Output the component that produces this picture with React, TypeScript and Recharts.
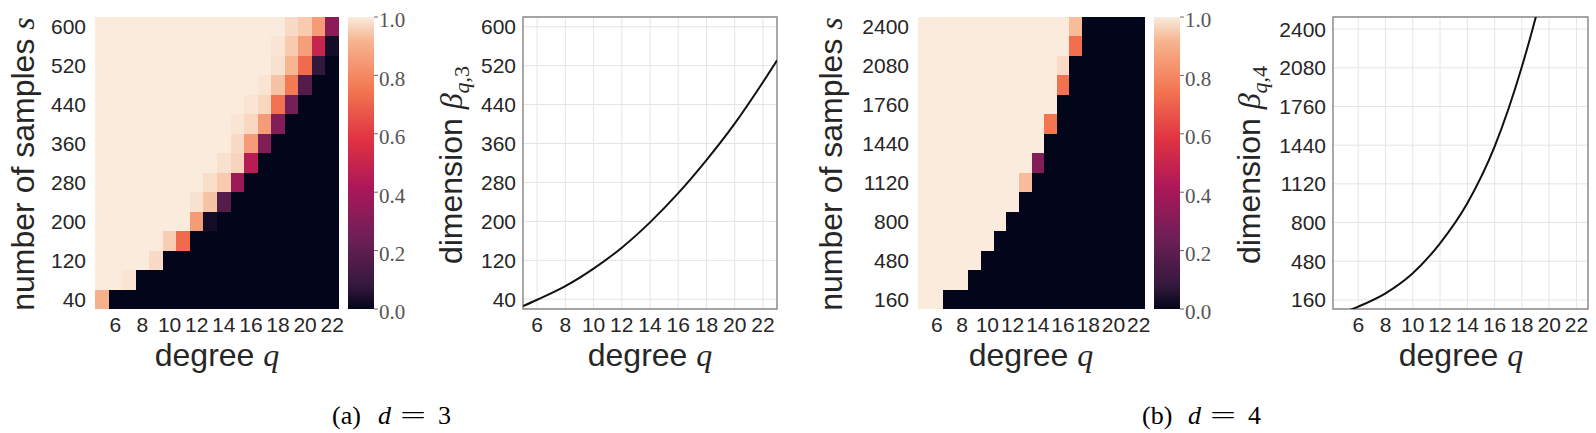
import React from "react";
import {
	ScatterChart,
	Scatter,
	LineChart,
	Line,
	XAxis,
	YAxis,
	CartesianGrid,
	ReferenceArea,
} from "recharts";

// degree q, one heatmap column per degree
const degrees = [5, 6, 7, 8, 9, 10, 11, 12, 13, 14, 15, 16, 17, 18, 19, 20, 21, 22];
const degreeTicks = [6, 8, 10, 12, 14, 16, 18, 20, 22];

// number of samples s, one heatmap row per value (ascending)
const samplesD3 = [40, 80, 120, 160, 200, 240, 280, 320, 360, 400, 440, 480, 520, 560, 600];
const samplesD4 = [160, 320, 480, 640, 800, 960, 1120, 1280, 1440, 1600, 1760, 1920, 2080, 2240, 2400];
const sTicksD3 = [40, 120, 200, 280, 360, 440, 520, 600];
const sTicksD4 = [160, 480, 800, 1120, 1440, 1760, 2080, 2400];
const colorbarTicks = [0, 0.2, 0.4, 0.6, 0.8, 1.0];

// recovery rate, rows follow samplesD3, columns follow degrees
const successD3: number[][] = [
	[0.91, 0, 0, 0, 0, 0, 0, 0, 0, 0, 0, 0, 0, 0, 0, 0, 0, 0],
	[1, 1, 0.99, 0, 0, 0, 0, 0, 0, 0, 0, 0, 0, 0, 0, 0, 0, 0],
	[1, 1, 1, 1, 0.975, 0, 0, 0, 0, 0, 0, 0, 0, 0, 0, 0, 0, 0],
	[1, 1, 1, 1, 1, 0.955, 0.72, 0, 0, 0, 0, 0, 0, 0, 0, 0, 0, 0],
	[1, 1, 1, 1, 1, 1, 1, 0.85, 0.03, 0, 0, 0, 0, 0, 0, 0, 0, 0],
	[1, 1, 1, 1, 1, 1, 1, 0.985, 0.94, 0.17, 0, 0, 0, 0, 0, 0, 0, 0],
	[1, 1, 1, 1, 1, 1, 1, 1, 0.98, 0.95, 0.37, 0, 0, 0, 0, 0, 0, 0],
	[1, 1, 1, 1, 1, 1, 1, 1, 1, 0.985, 0.965, 0.45, 0, 0, 0, 0, 0, 0],
	[1, 1, 1, 1, 1, 1, 1, 1, 1, 1, 0.975, 0.85, 0.29, 0, 0, 0, 0, 0],
	[1, 1, 1, 1, 1, 1, 1, 1, 1, 1, 0.99, 0.97, 0.85, 0.3, 0, 0, 0, 0],
	[1, 1, 1, 1, 1, 1, 1, 1, 1, 1, 1, 0.99, 0.97, 0.74, 0.26, 0, 0, 0],
	[1, 1, 1, 1, 1, 1, 1, 1, 1, 1, 1, 1, 0.99, 0.94, 0.76, 0.17, 0, 0],
	[1, 1, 1, 1, 1, 1, 1, 1, 1, 1, 1, 1, 1, 0.985, 0.92, 0.72, 0.08, 0],
	[1, 1, 1, 1, 1, 1, 1, 1, 1, 1, 1, 1, 1, 0.99, 0.95, 0.86, 0.5, 0.03],
	[1, 1, 1, 1, 1, 1, 1, 1, 1, 1, 1, 1, 1, 1, 0.975, 0.95, 0.85, 0.33],
];

// recovery rate, rows follow samplesD4, columns follow degrees
const successD4: number[][] = [
	[1, 1, 0, 0, 0, 0, 0, 0, 0, 0, 0, 0, 0, 0, 0, 0, 0, 0],
	[1, 1, 1, 1, 0, 0, 0, 0, 0, 0, 0, 0, 0, 0, 0, 0, 0, 0],
	[1, 1, 1, 1, 1, 0, 0, 0, 0, 0, 0, 0, 0, 0, 0, 0, 0, 0],
	[1, 1, 1, 1, 1, 1, 0, 0, 0, 0, 0, 0, 0, 0, 0, 0, 0, 0],
	[1, 1, 1, 1, 1, 1, 1, 0, 0, 0, 0, 0, 0, 0, 0, 0, 0, 0],
	[1, 1, 1, 1, 1, 1, 1, 1, 0, 0, 0, 0, 0, 0, 0, 0, 0, 0],
	[1, 1, 1, 1, 1, 1, 1, 1, 0.93, 0, 0, 0, 0, 0, 0, 0, 0, 0],
	[1, 1, 1, 1, 1, 1, 1, 1, 1, 0.3, 0, 0, 0, 0, 0, 0, 0, 0],
	[1, 1, 1, 1, 1, 1, 1, 1, 1, 1, 0, 0, 0, 0, 0, 0, 0, 0],
	[1, 1, 1, 1, 1, 1, 1, 1, 1, 1, 0.75, 0, 0, 0, 0, 0, 0, 0],
	[1, 1, 1, 1, 1, 1, 1, 1, 1, 1, 1, 0, 0, 0, 0, 0, 0, 0],
	[1, 1, 1, 1, 1, 1, 1, 1, 1, 1, 1, 0.74, 0, 0, 0, 0, 0, 0],
	[1, 1, 1, 1, 1, 1, 1, 1, 1, 1, 1, 0.975, 0, 0, 0, 0, 0, 0],
	[1, 1, 1, 1, 1, 1, 1, 1, 1, 1, 1, 1, 0.73, 0, 0, 0, 0, 0],
	[1, 1, 1, 1, 1, 1, 1, 1, 1, 1, 1, 1, 0.93, 0, 0, 0, 0, 0],
];

const betaD3Degrees = [5, 6, 8, 10, 12, 14, 16, 18, 20, 22, 23];
const betaD3 = [26, 39, 67, 103, 146, 198, 258, 326, 401, 486, 531];
const betaD4Degrees = [5, 6, 8, 10, 12, 14, 16, 18, 19, 20];
const betaD4 = [60, 105, 215, 381, 628, 959, 1427, 2088, 2490, 2950];

// seaborn "rocket"
const rocketStops: [number, string][] = [
	[0, "#03051a"],
	[0.083, "#35193e"],
	[0.25, "#701f57"],
	[0.417, "#ad1759"],
	[0.583, "#e13342"],
	[0.75, "#f37651"],
	[0.917, "#f6b48f"],
	[1, "#faebdd"],
];

const SANS = "'Liberation Sans', Arial, Helvetica, sans-serif";
const SERIF = "'Liberation Serif', 'Times New Roman', serif";
const INK = "#262626";
const tickStyle = { fontFamily: SANS, fontSize: 21, fill: INK };

function hexToRgb(h: string) {
	return [1, 3, 5].map((i) => parseInt(h.slice(i, i + 2), 16));
}

function rocket(v: number) {
	for (let i = 1; i < rocketStops.length; i++) {
		const [p1, c1] = rocketStops[i];
		const [p0, c0] = rocketStops[i - 1];
		if (v <= p1) {
			const t = (v - p0) / (p1 - p0);
			const a = hexToRgb(c0);
			const b = hexToRgb(c1);
			const rgb = a.map((x, k) => Math.round(x + (b[k] - x) * t));
			return `rgb(${rgb[0]},${rgb[1]},${rgb[2]})`;
		}
	}
	return rocketStops[rocketStops.length - 1][1];
}

function Heatmap({ left, width, yAxisWidth, plotWidth, samples, grid, sTicks, step }) {
	const cells = [];
	samples.forEach((s, r) => {
		degrees.forEach((q, c) => {
			cells.push({ q, s, color: rocket(grid[r][c]) });
		});
	});
	return (
		<div style={{ position: "absolute", left, top: 0, shapeRendering: "crispEdges" }}>
			<ScatterChart
				width={width}
				height={380}
				margin={{ top: 17, right: width - yAxisWidth - plotWidth, left: 0, bottom: 0 }}
			>
				<XAxis
					type="number"
					dataKey="q"
					domain={[4.5, 22.5]}
					ticks={degreeTicks}
					interval={0}
					allowDataOverflow
					axisLine={false}
					tickLine={false}
					tickSize={6}
					tickMargin={2}
					height={71}
					tick={tickStyle}
				/>
				<YAxis
					type="number"
					dataKey="s"
					domain={[samples[0] - step / 2, samples[samples.length - 1] + step / 2]}
					ticks={sTicks}
					interval={0}
					allowDataOverflow
					axisLine={false}
					tickLine={false}
					tickSize={6}
					tickMargin={3}
					width={yAxisWidth}
					tick={tickStyle}
				/>
				{cells.map((c) => (
					<ReferenceArea
						key={`${c.q}-${c.s}`}
						x1={c.q - 0.5}
						x2={c.q + 0.5}
						y1={c.s - step / 2}
						y2={c.s + step / 2}
						fill={c.color}
						fillOpacity={1}
						stroke="none"
						ifOverflow="visible"
					/>
				))}
				<Scatter data={cells} isAnimationActive={false} shape={() => <g />} />
			</ScatterChart>
		</div>
	);
}

function ColorbarTick(props) {
	const { x, y, payload } = props;
	return (
		<g>
			<line x1={x - 5} x2={x - 1} y1={y} y2={y} stroke="#666" strokeWidth={1} />
			<text x={x} y={y + 3} dy="0.35em" fontFamily={SERIF} fontSize={21} fill="#555">
				{payload.value.toFixed(1)}
			</text>
		</g>
	);
}

function Colorbar({ left, id }) {
	return (
		<div style={{ position: "absolute", left, top: 0 }}>
			<ScatterChart width={74} height={380} margin={{ top: 17, right: 0, left: 8, bottom: 71 }}>
				<defs>
					<linearGradient id={id} x1="0" y1="1" x2="0" y2="0">
						{rocketStops.map(([p, c]) => (
							<stop key={p} offset={p} stopColor={c} />
						))}
					</linearGradient>
				</defs>
				<XAxis type="number" dataKey="x" domain={[0, 1]} hide />
				<YAxis
					orientation="right"
					type="number"
					dataKey="v"
					domain={[0, 1]}
					ticks={colorbarTicks}
					interval={0}
					axisLine={false}
					tickLine={false}
					tickSize={4}
					tickMargin={1}
					width={40}
					tick={<ColorbarTick />}
				/>
				<ReferenceArea x1={0} x2={1} y1={0} y2={1} fill={`url(#${id})`} fillOpacity={1} />
				<Scatter data={[{ x: 0, v: 0 }, { x: 1, v: 1 }]} isAnimationActive={false} shape={() => <g />} />
			</ScatterChart>
		</div>
	);
}

function DimensionChart({ left, width, yAxisWidth, marginRight, xs, ys, xDomain, yDomain, yTicks }) {
	const data = xs.map((q, i) => ({ q, beta: ys[i] }));
	return (
		<div style={{ position: "absolute", left, top: 0 }}>
			<LineChart width={width} height={380} data={data} margin={{ top: 17, right: marginRight, left: 0, bottom: 0 }}>
				<CartesianGrid stroke="#e4e4e4" strokeWidth={1} />
				<XAxis
					type="number"
					dataKey="q"
					domain={xDomain}
					ticks={degreeTicks}
					interval={0}
					allowDataOverflow
					axisLine={false}
					tickLine={false}
					tickSize={6}
					tickMargin={2}
					height={71}
					tick={tickStyle}
				/>
				<YAxis
					type="number"
					domain={yDomain}
					ticks={yTicks}
					interval={0}
					allowDataOverflow
					axisLine={false}
					tickLine={false}
					tickSize={3}
					tickMargin={4}
					width={yAxisWidth}
					tick={tickStyle}
				/>
				<Line
					type="monotone"
					dataKey="beta"
					stroke="#111111"
					strokeWidth={2}
					dot={false}
					isAnimationActive={false}
				/>
				<ReferenceArea
					x1={xDomain[0]}
					x2={xDomain[1]}
					y1={yDomain[0]}
					y2={yDomain[1]}
					fill="none"
					stroke="#8a8a8a"
					strokeWidth={1.4}
					ifOverflow="visible"
				/>
			</LineChart>
		</div>
	);
}

function YTitle({ x, y, children }) {
	return (
		<text
			transform={`translate(${x},${y}) rotate(-90)`}
			textAnchor="middle"
			fontFamily={SANS}
			fontSize={32}
			fill={INK}
		>
			{children}
		</text>
	);
}

function XTitle({ x }) {
	return (
		<text x={x} y={366} textAnchor="middle" fontFamily={SANS} fontSize={32} fill={INK}>
			degree{" "}
			<tspan fontFamily={SERIF} fontStyle="italic">
				q
			</tspan>
		</text>
	);
}

function Caption({ x, tag, d }) {
	return (
		<g fontFamily={SERIF} fontSize={26} fill="#000">
			<text x={x} y={424}>({tag})</text>
			<text x={x + 46} y={424} fontStyle="italic">d</text>
			<text x={x + 68} y={424} textLength={26} lengthAdjust="spacingAndGlyphs">=</text>
			<text x={x + 106} y={424}>{d}</text>
		</g>
	);
}

export default function App() {
	return (
		<div style={{ position: "fixed", left: 0, top: 0, width: 1596, height: 433, background: "#fff" }}>
			<Heatmap left={0} width={362} yAxisWidth={95} plotWidth={244} samples={samplesD3} grid={successD3} sTicks={sTicksD3} step={40} />
			<Colorbar left={340} id="rocket-a" />
			<DimensionChart
				left={420}
				width={370}
				yAxisWidth={103}
				marginRight={13}
				xs={betaD3Degrees}
				ys={betaD3}
				xDomain={[5, 23]}
				yDomain={[20, 620]}
				yTicks={sTicksD3}
			/>
			<Heatmap left={800} width={365} yAxisWidth={118} plotWidth={227} samples={samplesD4} grid={successD4} sTicks={sTicksD4} step={160} />
			<Colorbar left={1146} id="rocket-b" />
			<DimensionChart
				left={1220}
				width={376}
				yAxisWidth={113}
				marginRight={8}
				xs={betaD4Degrees}
				ys={betaD4}
				xDomain={[4.15, 22.85]}
				yDomain={[85, 2500]}
				yTicks={sTicksD4}
			/>
			<svg width={1596} height={433} style={{ position: "absolute", left: 0, top: 0, pointerEvents: "none" }}>
				<YTitle x={34} y={164}>
					number of samples{" "}
					<tspan fontFamily={SERIF} fontStyle="italic">
						s
					</tspan>
				</YTitle>
				<XTitle x={217} />
				<YTitle x={462} y={165}>
					dimension{" "}
					<tspan fontFamily={SERIF} fontStyle="italic">
						β
					</tspan>
					<tspan fontFamily={SERIF} fontStyle="italic" fontSize={22} dy={7}>
						q
					</tspan>
					<tspan fontFamily={SERIF} fontSize={22}>
						,3
					</tspan>
				</YTitle>
				<XTitle x={650} />
				<YTitle x={842} y={164}>
					number of samples{" "}
					<tspan fontFamily={SERIF} fontStyle="italic">
						s
					</tspan>
				</YTitle>
				<XTitle x={1031} />
				<YTitle x={1260} y={165}>
					dimension{" "}
					<tspan fontFamily={SERIF} fontStyle="italic">
						β
					</tspan>
					<tspan fontFamily={SERIF} fontStyle="italic" fontSize={22} dy={7}>
						q
					</tspan>
					<tspan fontFamily={SERIF} fontSize={22}>
						,4
					</tspan>
				</YTitle>
				<XTitle x={1461} />
				<Caption x={332} tag="a" d={3} />
				<Caption x={1142} tag="b" d={4} />
			</svg>
		</div>
	);
}
